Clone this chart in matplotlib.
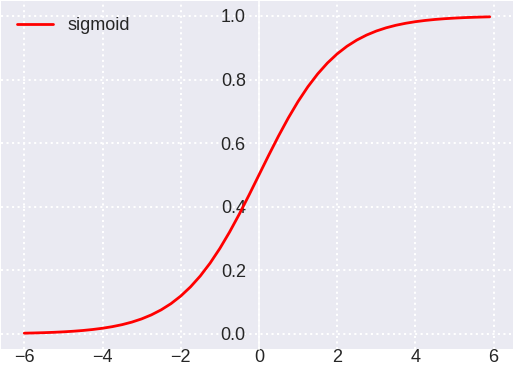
import matplotlib
matplotlib.use("Agg")
import matplotlib.pyplot as plt

# values
x_vals = [-6.0, -5.75, -5.5, -5.25, -5.0, -4.75, -4.5, -4.25, -4.0, -3.75, -3.5, -3.25,
          -3.0, -2.75, -2.5, -2.25, -2.0, -1.75, -1.5, -1.25, -1.0, -0.75, -0.5, -0.25,
          0.0, 0.25, 0.5, 0.75, 1.0, 1.25, 1.5, 1.75, 2.0, 2.25, 2.5, 2.75,
          3.0, 3.25, 3.5, 3.75, 4.0, 4.25, 4.5, 4.75, 5.0, 5.25, 5.5, 5.75, 5.9]
y_vals = [0.0025, 0.0032, 0.0041, 0.0052, 0.0067, 0.0086, 0.0110, 0.0141, 0.0180, 0.0230,
          0.0293, 0.0373, 0.0474, 0.0601, 0.0759, 0.0953, 0.1192, 0.1481, 0.1824, 0.2227,
          0.2689, 0.3208, 0.3775, 0.4378, 0.5000, 0.5622, 0.6225, 0.6792, 0.7311, 0.7773,
          0.8176, 0.8520, 0.8808, 0.9047, 0.9241, 0.9399, 0.9526, 0.9627, 0.9707, 0.9770,
          0.9820, 0.9859, 0.9890, 0.9914, 0.9933, 0.9948, 0.9959, 0.9968, 0.9973]
x_ticks = [-6, -4, -2, 0, 2, 4, 6]
y_ticks = [0.0, 0.2, 0.4, 0.6, 0.8, 1.0]

plt.style.use("seaborn-v0_8-darkgrid")
plt.rcParams["font.family"] = ["Liberation Sans", "DejaVu Sans"]

fig = plt.figure(figsize=(5.16, 3.66), dpi=100)
ax = fig.add_axes([1 / 516, 17 / 366, 512 / 516, 348 / 366])
ax.set_facecolor("#EAEAF2")

ax.plot(x_vals, y_vals, color="red", linewidth=2, label="sigmoid", zorder=3)

ax.grid(True, color="white", linestyle=":", linewidth=1.5)
ax.spines["left"].set_position(("data", 0))
ax.spines["left"].set_color("white")
ax.spines["left"].set_linewidth(1.2)
for s in ["top", "right", "bottom"]:
    ax.spines[s].set_visible(False)

ax.set_xticks(x_ticks)
ax.set_yticks(y_ticks)
ax.tick_params(axis="both", length=0, labelsize=13, colors="#262626")
ax.tick_params(axis="y", pad=9.5)
ax.tick_params(axis="x", pad=0)

ax.legend(loc="upper left", frameon=False, fontsize=13)

fig.savefig("out.png", dpi=100)
